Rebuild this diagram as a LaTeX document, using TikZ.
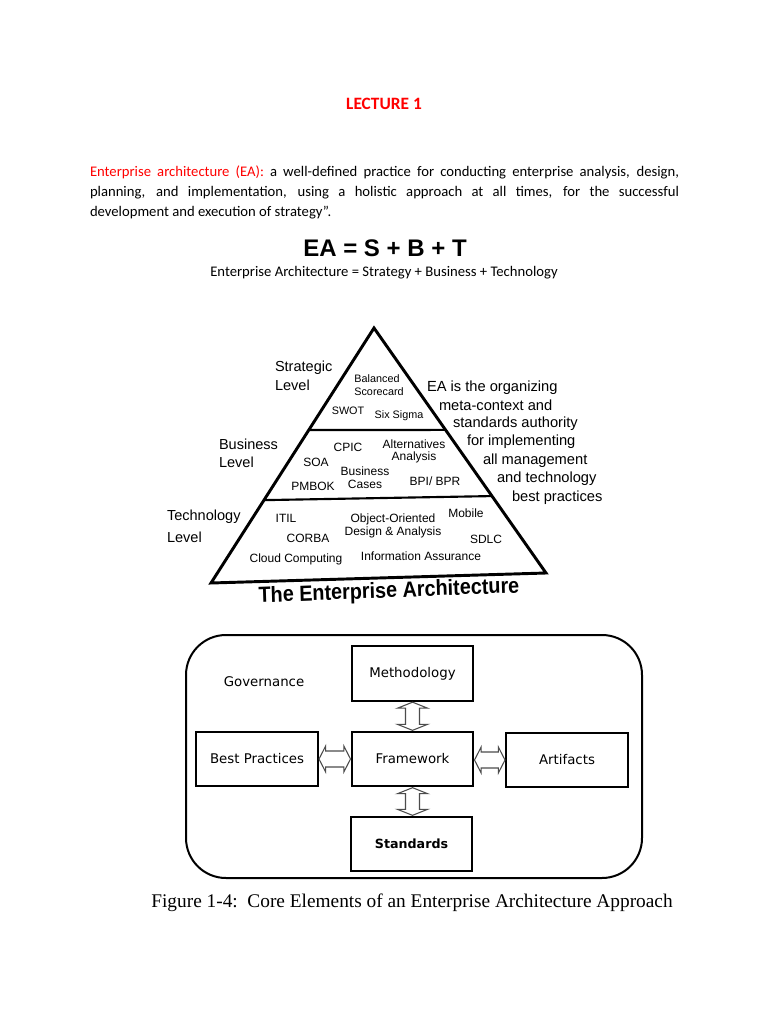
\documentclass[tikz,border=0pt]{standalone}
\usepackage{fontspec}
\setmainfont{Carlito}
\newfontfamily\arialf{Liberation Sans}
\newfontfamily\dejavu{DejaVu Sans}
\newfontfamily\timesf{Liberation Serif}
\usetikzlibrary{calc}
\newcommand{\fsz}[2]{\fontsize{#1pt}{#2pt}\selectfont}
\newcommand{\harrow}[2]{%
  \draw[dbl] let \p1=(#1.east), \p2=(#2.west) in
   (\x1+1pt,\y2) -- (\x1+6pt,\y2+9.75pt) -- (\x1+6pt,\y2+6pt) -- (\x2-6pt,\y2+6pt)
   -- (\x2-6pt,\y2+9.75pt) -- (\x2-1pt,\y2) -- (\x2-6pt,\y2-9.75pt) -- (\x2-6pt,\y2-6pt)
   -- (\x1+6pt,\y2-6pt) -- (\x1+6pt,\y2-9.75pt) -- cycle;}
\newcommand{\varrow}[2]{%
  \draw[dbl] let \p1=(#1.south), \p2=(#2.north) in
   (\x1,\y1-1pt) -- (\x1+11.25pt,\y1-5.5pt) -- (\x1+5.25pt,\y1-5.5pt) -- (\x1+5.25pt,\y2+5.5pt)
   -- (\x1+11.25pt,\y2+5.5pt) -- (\x1,\y2+1pt) -- (\x1-11.25pt,\y2+5.5pt) -- (\x1-5.25pt,\y2+5.5pt)
   -- (\x1-5.25pt,\y1-5.5pt) -- (\x1-11.25pt,\y1-5.5pt) -- cycle;}
\begin{document}
\begin{tikzpicture}[x=0.75pt,y=-0.75pt,
  every node/.style={inner sep=0pt, outer sep=0pt},
  lvl/.style={font=\arialf\fsz{10.9}{13}, anchor=west},
  sm/.style={font=\arialf\fsz{8.1}{9.5}},
  md/.style={font=\arialf\fsz{9}{10.5}},
  rt/.style={font=\arialf\fsz{11}{13}, anchor=west},
  box/.style={draw, line width=1.5pt, minimum width=91pt, minimum height=41pt, font=\dejavu\fsz{10}{12}},
  dbl/.style={draw=black!70, line width=0.8pt, fill=white, line join=miter}
]
\fill[white] (0,0) rectangle (768,1024);
\path[use as bounding box] (0,0) rectangle (768,1024);

% header
\node[font=\bfseries\fsz{13}{15}, text=red] (lec) at (384,104) {LECTURE 1};
\node[anchor=north west, text width=441.75pt, align=justify, font=\fsz{11}{15}] (para) at (90,166)
 {\textcolor{red}{Enterprise architecture (EA):} a well-defined practice for conducting enterprise analysis, design,\linebreak
 planning, and implementation, using a holistic approach at all times, for the successful\linebreak
 development and execution of strategy”.};
\node[font=\arialf\bfseries\fsz{18}{20}] (eq) at (385,248) {EA = S + B + T};
\node[font=\fsz{11}{13}] (sub) at (384,273) {Enterprise Architecture = Strategy + Business + Technology};

% pyramid
\coordinate (apex) at (374,328);
\coordinate (bl) at (211,583);
\coordinate (br) at (546,573);
\draw[line width=2.2pt, line join=miter] (apex) -- (bl) -- (br) -- cycle;
\draw[line width=1.6pt] ($(apex)!0.4!(bl)$) -- ($(apex)!0.416!(br)$);
\draw[line width=1.6pt] ($(apex)!0.675!(bl)$) -- ($(apex)!0.686!(br)$);

\node[lvl] (sl1) at (275,368) {Strategic};
\node[lvl] (sl2) at (275,385) {Level};
\node[lvl] (bl1) at (219,444) {Business};
\node[lvl] (bl2) at (219,462) {Level};
\node[lvl] (tl1) at (167,517) {Technology};
\node[lvl] (tl2) at (167,537) {Level};

\node[sm] (bal) at (377,379) {Balanced};
\node[sm] (sc) at (379,392) {Scorecard};
\node[sm] (swot) at (348,411) {SWOT};
\node[sm] (six) at (399,416) {Six Sigma};

\node[md] (cpic) at (348,447) {CPIC};
\node[md] (alt) at (414,444) {Alternatives};
\node[md] (ana) at (414,457) {Analysis};
\node[md] (soa) at (316,462) {SOA};
\node[md] (bus) at (365,471) {Business};
\node[md] (cases) at (365,484) {Cases};
\node[md] (pmbok) at (313,486) {PMBOK};
\node[md] (bpi) at (435,481) {BPI/ BPR};

\node[md] (itil) at (286,518) {ITIL};
\node[md] (oo) at (393,519) {Object-Oriented};
\node[md] (dsa) at (393,532) {Design \& Analysis};
\node[md] (mob) at (466,513) {Mobile};
\node[md] (corba) at (308,538) {CORBA};
\node[md] (sdlc) at (486,539) {SDLC};
\node[md] (cloud) at (296,559) {Cloud Computing};
\node[md] (ia) at (421,556) {Information Assurance};

\node[font=\arialf\bfseries\fsz{16.5}{18}, xscale=0.9, rotate=2] (title) at (389,592) {The Enterprise Architecture};

\node[rt] (r1) at (427,388) {EA is the organizing};
\node[rt] (r2) at (439,405) {meta-context and};
\node[rt] (r3) at (453,424) {standards authority};
\node[rt] (r4) at (467,442) {for implementing};
\node[rt] (r5) at (483,461) {all management};
\node[rt] (r6) at (497,479) {and technology};
\node[rt] (r7) at (512,498) {best practices};

% core elements diagram
\draw[line width=1.5pt, rounded corners=30pt] (186,635) rectangle (642,878);
\node[font=\dejavu\fsz{10}{12}] (gov) at (264,682) {Governance};
\node[box] (meth) at (412.5,673.5) {Methodology};
\node[box] (bp) at (257,759) {Best Practices};
\node[box] (fw) at (412.5,759) {Framework};
\node[box] (art) at (567,760) {Artifacts};
\node[box, font=\dejavu\bfseries\fsz{9.5}{12}] (std) at (411.5,844) {Standards};
\harrow{bp}{fw}
\harrow{fw}{art}
\varrow{meth}{fw}
\varrow{fw}{std}

\node[font=\timesf\fsz{14.5}{16}] (cap) at (412,903) {Figure 1-4:\ \ Core Elements of an Enterprise Architecture Approach};
\end{tikzpicture}
\end{document}
